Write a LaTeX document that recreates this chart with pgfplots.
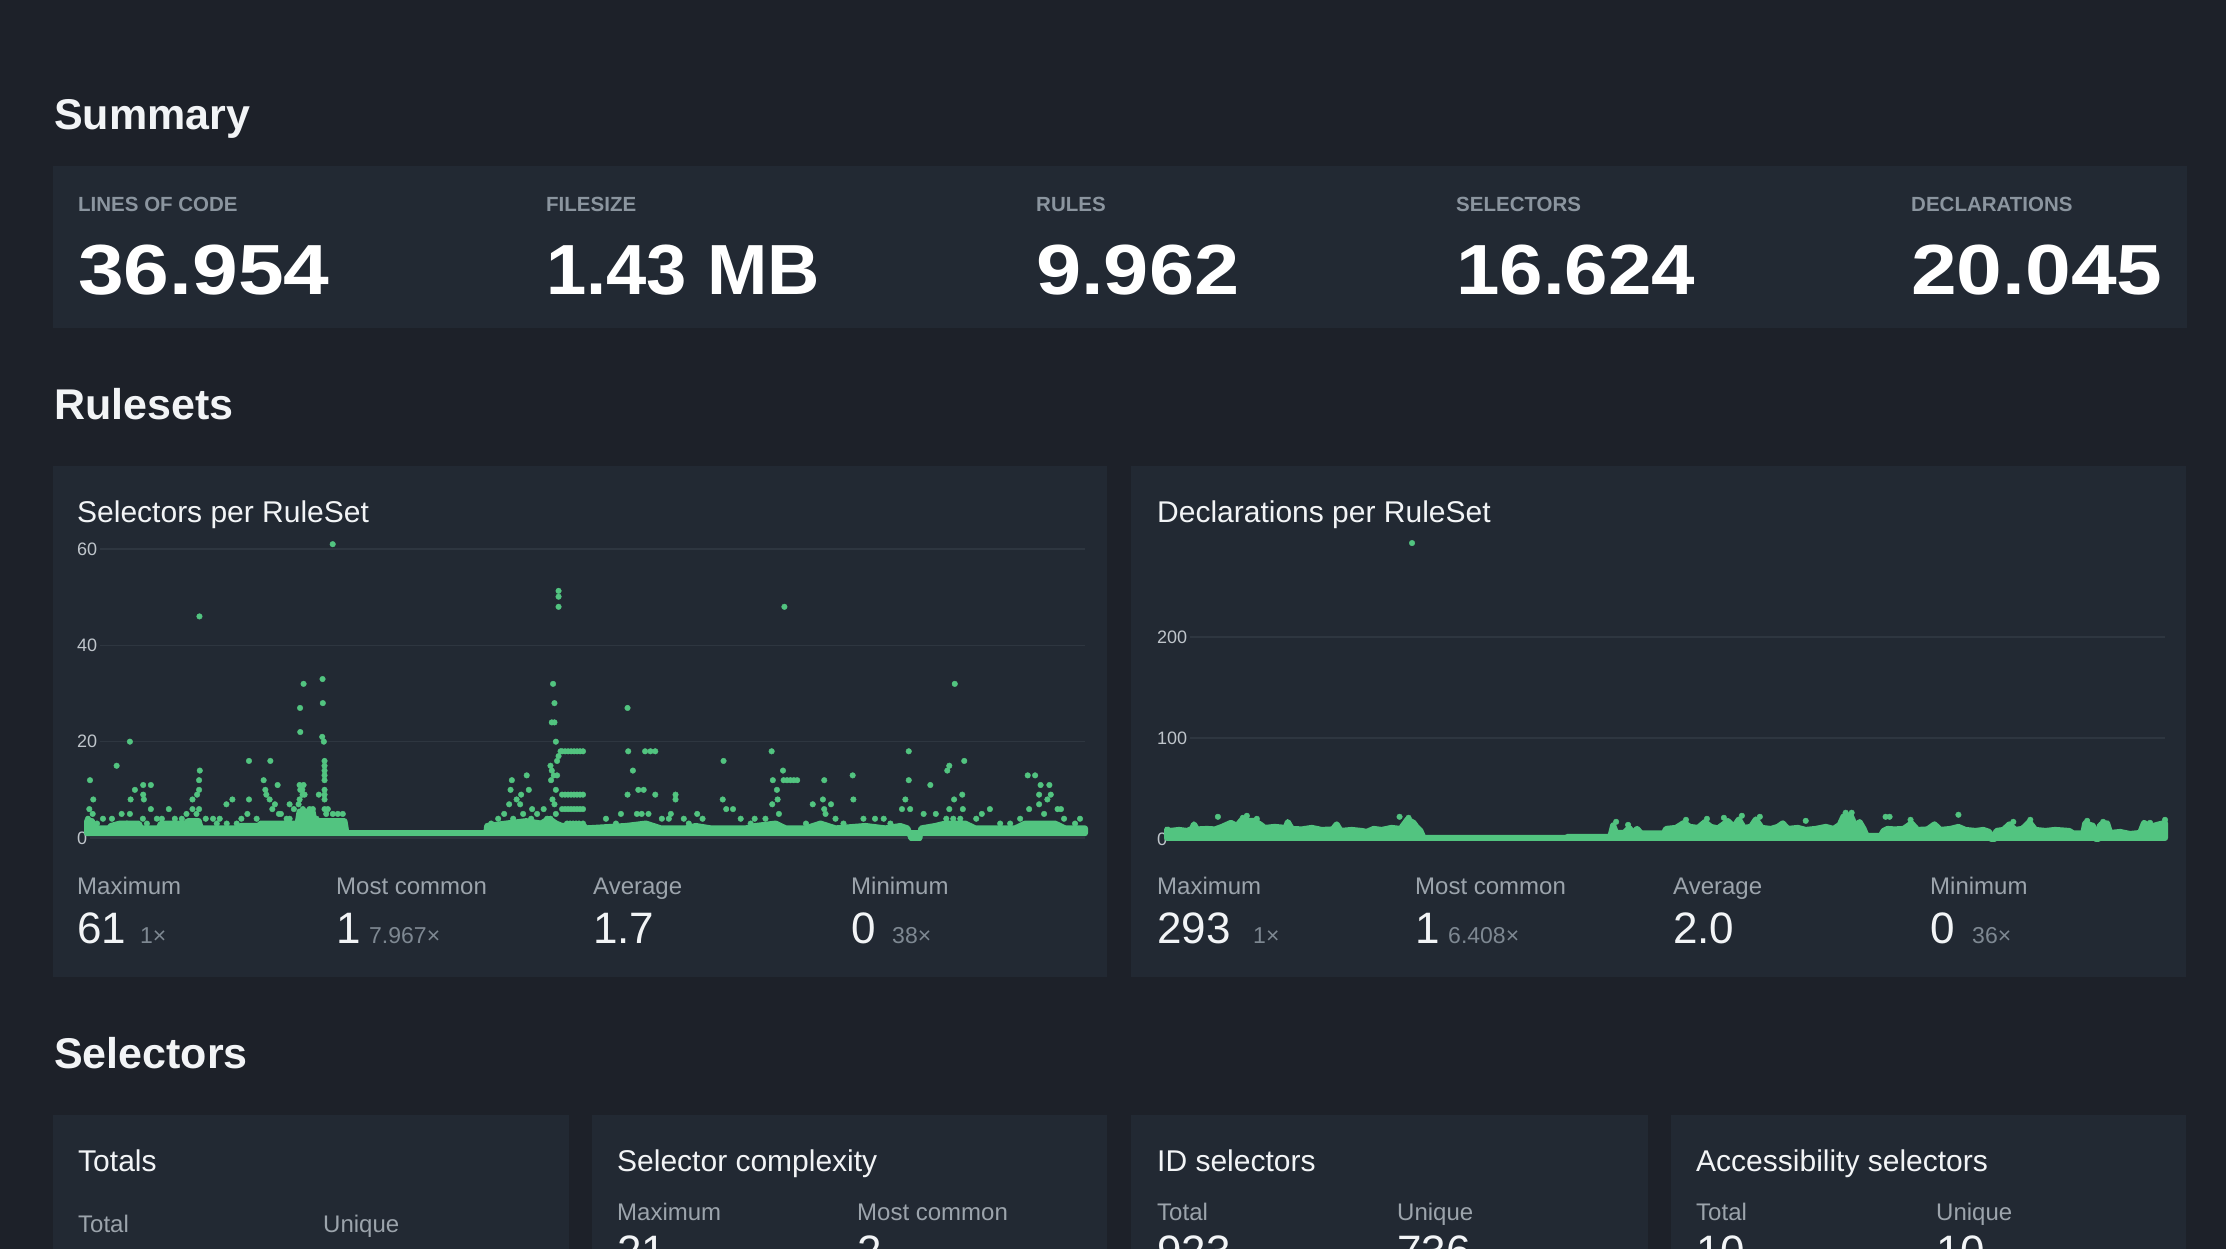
\documentclass[border=0pt]{standalone}
\usepackage{pgfplots}
\pgfplotsset{compat=1.18}
\usepackage{fontspec}
\setmainfont{Liberation Sans}
\usepackage{graphicx}

\definecolor{bg}{HTML}{1D2129}
\definecolor{panel}{HTML}{222933}
\definecolor{gridc}{HTML}{2E3640}
\definecolor{ptgreen}{HTML}{52C480}
\definecolor{lbl}{HTML}{8B959F}
\definecolor{sub}{HTML}{9CA4AC}
\definecolor{small}{HTML}{7E8892}
\definecolor{tickc}{HTML}{BFC5CB}
\definecolor{txt}{HTML}{F2F4F6}

\newcommand\fs[1]{\fontsize{#1}{#1}\selectfont}

\pgfplotsset{dash/.style={
    scale only axis, width=998pt, xmin=0, xmax=1000, xtick=\empty,
    axis line style={draw=none}, major tick length=0pt,
    ymajorgrids, grid style={draw=gridc, line width=1.3pt},
    yticklabel style={font=\fs{18}, text=tickc, anchor=west, xshift=-13pt,
      fill=panel, inner xsep=3pt, inner ysep=1pt},
    clip=false, anchor=south west},
  band/.style={draw=ptgreen, fill=ptgreen, line width=6pt, line join=round, line cap=round},
  dots/.style={only marks, mark=*, mark size=2.8pt, color=ptgreen}}

\tikzset{
  myhead/.style={anchor=base west, inner sep=0pt, text=txt, font=\fs{43}\bfseries},
  mycap/.style={anchor=base west, inner sep=0pt, text=lbl, font=\fs{20.5}\bfseries},
  mybig/.style={anchor=base west, inner sep=0pt, text=white, font=\fs{71}\bfseries},
  myttl/.style={anchor=base west, inner sep=0pt, text=txt, font=\fs{30}},
  mylab/.style={anchor=base west, inner sep=0pt, text=sub, font=\fs{24}},
  myval/.style={anchor=base west, inner sep=0pt, text=txt, font=\fs{44}},
  mysml/.style={anchor=base west, inner sep=0pt, text=small, font=\fs{23}}}

\begin{document}
\begin{tikzpicture}[x=1pt,y=1pt]
\useasboundingbox (0,0) rectangle (2226,1248);
\fill[bg] (-10,-10) rectangle (2236,1258);
\begin{scope}
\clip (-10,-10) rectangle (2236,1248);

% Summary
\node[myhead] at (54,1118) {Summary};
\fill[panel] (53,920) rectangle (2187,1082);
\node[mycap] at (78,1036) {LINES OF CODE};
\node[mycap] at (546,1036) {FILESIZE};
\node[mycap] at (1036,1036) {RULES};
\node[mycap] at (1456,1036) {SELECTORS};
\node[mycap] at (1911,1036) {DECLARATIONS};
\node[mybig] at (78,953) {\scalebox{1.157}[1]{36.954}};
\node[mybig] at (546,953) {\scalebox{1.02}[1]{1.43 MB}};
\node[mybig] at (1036,953) {\scalebox{1.143}[1]{9.962}};
\node[mybig] at (1456,953) {\scalebox{1.10}[1]{16.624}};
\node[mybig] at (1911,953) {\scalebox{1.157}[1]{20.045}};

% Rulesets
\node[myhead] at (54,828) {Rulesets};
\fill[panel] (53,271) rectangle (1107,782);
\fill[panel] (1131,271) rectangle (2186,782);
\node[myttl] at (77,725) {Selectors per RuleSet};
\node[myttl] at (1157,725) {Declarations per RuleSet};

\begin{axis}[dash, at={(87pt,410pt)}, height=289pt, ymin=0, ymax=60,
    ytick={0,20,40,60}, yticklabels={0,20,40,60}]
% dense band of rule sets with 1-3 selectors
\addplot[band] coordinates {
(0,1) (0,3.5) (5,3.5) (7,2) (22,2) (24,2.5) (33,3) (52,3) (54,2) (72,2) (74,3)
(99,3) (101,3.5) (112,3.5) (114,2) (152,2) (154,2.5) (172,2.5) (174,3) (211,3)
(213,5.5) (226,5.5) (228,3.5) (258,3.5) (260,1) (400,1) (401,2.5) (420,3)
(440,3.5) (455,3) (463,4) (470,3) (476,2.5) (498,2.5) (500,2) (540,2.5) (560,3)
(575,2) (600,2) (610,2.5) (625,2) (660,2) (670,2.5) (690,3) (700,2) (720,2)
(735,3) (750,2) (780,2.5) (800,2) (815,2.5) (822,2) (826,0) (834,0) (836,2)
(850,2.5) (860,3) (880,3) (890,2) (930,2) (940,3) (970,3) (980,2) (1000,2) (1000,1)
} --cycle;
\addplot[dots] coordinates {
(3,12) (2.3,6) (6.3,8) (5.7,5) (1,4) (10,3) (16,4) (25,4) (29.7,15) (34.7,5)
(40,3) (43,20) (43.7,8) (43,5) (48,10) (56.3,11) (56.3,9) (57,8) (56,4) (60,3)
(64,11) (64,6) (70,4) (75,4) (82,6) (88,4) (90,3) (95,4) (99.7,5) (105.7,8)
(105.7,6) (110.3,9) (112.3,10) (112.3,12) (113,14) (112.7,46) (112.3,6)
(109.7,5) (119,4) (126.3,4) (130,3) (133,4) (139.7,7) (145.7,8) (140,3)
(150,3) (154.7,4) (160.7,5) (162.3,16) (162.3,8) (170,4) (177,12) (178.7,10)
(179.7,9) (183,8) (183.7,16) (191,11) (185.7,6) (188.3,7) (194.3,5) (192.3,5)
(200,4) (203,7) (203,4) (207.3,6) (213.5,27) (213.7,22) (217,32) (213,11)
(217,11) (213.7,10) (215.7,10) (216,9) (218,9) (213,8) (212,7) (216.3,6)
(220,5) (223,6) (226.3,6) (230,4) (236,33) (236.3,28) (235.7,21) (237.3,20)
(238,16) (238,15) (238,14) (238,13) (238,12) (238,10) (238,9) (232.3,9)
(238,8) (238,6) (241.3,6) (239.7,5) (246.3,5) (251.3,5) (256.3,5) (246.2,61)
(405,3) (412,4) (418,5) (423,7) (425.7,12) (424.4,10) (427,4) (430.5,8)
(434,7) (435,9) (437,5) (440.6,13) (442.7,10) (445,4) (446,6) (451,5)
(455,3) (457.6,6) (461,4) (464.4,4) (465,12) (464.4,15) (465.7,14)
(465.7,24) (466.4,8) (467,32) (467.7,13) (468.4,28) (468.4,24) (468.4,7)
(469.8,20) (469.8,10) (469.8,5) (471,16) (471,13) (472.5,17) (472.5,51.3)
(472.5,50.1) (472.5,48) (474.5,18)
(476,18) (479,18) (482,18) (485,18) (488,18) (491,18) (494,18) (497,18)
(476,9) (479,9) (482,9) (485,9) (488,9) (491,9) (494,9) (497,9)
(476,6) (479,6) (482,6) (485,6) (488,6) (491,6) (494,6) (497,6)
(481,3) (484,3) (487,3) (490,3) (493,3) (497,3)
(541.6,27) (542.3,18) (547,14) (541.6,9) (559.2,18) (564.6,18) (569.4,18)
(552.4,10) (557.8,10) (569.4,9) (589.7,9) (589.7,8) (551,5) (555.8,5)
(562.6,5) (576,4) (583,4) (585,5) (520,4) (530,3) (535,5) (598,4) (603,3)
(611.4,5) (616.8,4) (637.8,16) (637,8) (640.5,6) (647.3,6) (655,4) (665,3)
(669,4) (679.8,4) (686,18) (687.2,12) (686.6,7) (691.3,10) (692,8)
(693.3,5) (697.4,14) (698,12) (701.4,12) (704.8,12) (708.2,12) (711.6,12)
(698.8,48) (720.4,3) (727.2,7) (737.4,8) (738.7,12) (738.7,6) (740,5)
(745.5,7) (750,4) (758,3) (767.2,13) (767.9,8) (778,4) (789.6,4) (798.3,4)
(805,3) (816.6,6) (820,8) (823.4,18) (823.4,12) (824.8,6)
(826,0) (828,0) (830,0) (832,0) (834,0)
(838.3,5) (845,11) (850.5,5) (861,4) (862,14) (864,15) (864,6) (868,4)
(868.8,8) (869.5,32) (875,4) (877,9) (877.6,6) (879,16) (891,4) (896.6,5)
(904.7,6) (915,3) (925,3) (935,4) (942.6,13) (944,6) (950,13) (954,9)
(954,7) (955.5,11) (959,5) (962.3,8) (964.3,11) (965.7,9) (972.5,6)
(975.9,6) (979,4) (990,3) (995,4)
};
\end{axis}

\begin{axis}[dash, at={(1167pt,409pt)}, height=303pt, ymin=0, ymax=300,
    ytick={0,100,200}, yticklabels={0,100,200}]
% dense band of declarations per rule set
\addplot[band] coordinates {
(0,1) (0,9.5) (3,8) (12,9) (20,8) (25,10) (27,14.5) (30,9.5) (40,10) (48,9.5)
(55,12) (64,16) (70,13) (75,19) (82,18) (88,17.8) (94,14) (98,11) (108,12)
(119,11) (121,16.8) (125,10) (135,9.5) (145,11) (155,9) (166,9.5) (170,14.5)
(174,8) (185,9) (195,8) (200,7) (207,10) (215,9) (225,11) (234,10) (241,19.4)
(247,16) (250,12) (254,8) (257,1) (400,1) (401,2) (444,2) (445,5.6) (447,13.5)
(450,6) (458,6) (463,11) (467,6) (471,10) (475,5.6) (498,5.6) (500,10)
(510,11) (518,16) (524,12) (532,11) (539,16.8) (545,12) (552,10.5) (562,17.8)
(568,12) (573,19.4) (578,11) (585,12) (590,19.4) (596,11) (605,10) (612,12)
(617,15.5) (622,10) (632,11) (640,9) (650,10) (660,12) (668,10) (674,14)
(678,22.7) (685,23.4) (690,12) (694,16.8) (698,10) (701,3) (715,3) (718,8)
(722,10) (729,9.5) (738,10) (746,15.5) (752,9) (762,9.5) (769,14.5) (775,9)
(785,10) (793,12) (800,9) (810,8) (818,9) (824,7) (826,0) (829,0) (831,8)
(838,9) (844,14.5) (850,9) (857,10) (864,16.8) (870,9) (880,8) (890,9)
(904,8) (908,5.6) (918,5.6) (920,15.5) (928,13) (931,0) (933,0) (935,14)
(942,15.5) (945,6) (955,7) (965,5) (975,6) (979,16) (985,12) (992,14)
(1000,16) (1000,1)
} --cycle;
\addplot[dots] coordinates {
(245.5,293) (51,22) (76,21) (80,23) (90,20) (233,22) (242,21) (450,17)
(462,14) (520,19) (541,20) (558,21) (576,23) (594,22) (640,18) (680,26)
(686,26) (720,22) (724,22) (745,19) (793,24) (848,17) (865,19) (922,18)
(938,17) (1000,19) (985,16)
};
\end{axis}

% statistics under the charts
\node[mylab] at (77,353) {Maximum};
\node[mylab] at (336,353) {Most common};
\node[mylab] at (593,353) {Average};
\node[mylab] at (851,353) {Minimum};
\node[myval] at (77,305) {61};
\node[mysml] at (140,305) {1×};
\node[myval] at (336,305) {1};
\node[mysml] at (369,305) {7.967×};
\node[myval] at (593,305) {1.7};
\node[myval] at (851,305) {0};
\node[mysml] at (892,305) {38×};

\node[mylab] at (1157,353) {Maximum};
\node[mylab] at (1415,353) {Most common};
\node[mylab] at (1673,353) {Average};
\node[mylab] at (1930,353) {Minimum};
\node[myval] at (1157,305) {293};
\node[mysml] at (1253,305) {1×};
\node[myval] at (1415,305) {1};
\node[mysml] at (1448,305) {6.408×};
\node[myval] at (1673,305) {2.0};
\node[myval] at (1930,305) {0};
\node[mysml] at (1972,305) {36×};

% Selectors
\node[myhead] at (54,180) {Selectors};
\fill[panel] (53,-30) rectangle (569,133);
\fill[panel] (592,-30) rectangle (1107,133);
\fill[panel] (1131,-30) rectangle (1648,133);
\fill[panel] (1671,-30) rectangle (2186,133);
\node[myttl] at (78,77) {Totals};
\node[myttl] at (617,77) {Selector complexity};
\node[myttl] at (1157,77) {ID selectors};
\node[myttl] at (1696,77) {Accessibility selectors};
\node[mylab] at (78,16) {Total};
\node[mylab] at (323,16) {Unique};
\node[myval] at (78,-32) {16.624};
\node[myval] at (323,-32) {11.863};
\node[mylab] at (617,28) {Maximum};
\node[mylab] at (857,28) {Most common};
\node[myval] at (617,-18) {21};
\node[myval] at (857,-18) {2};
\node[mylab] at (1157,28) {Total};
\node[mylab] at (1397,28) {Unique};
\node[myval] at (1157,-18) {923};
\node[myval] at (1397,-18) {736};
\node[mylab] at (1696,28) {Total};
\node[mylab] at (1936,28) {Unique};
\node[myval] at (1696,-18) {10};
\node[myval] at (1936,-18) {10};
\end{scope}
\end{tikzpicture}
\end{document}
